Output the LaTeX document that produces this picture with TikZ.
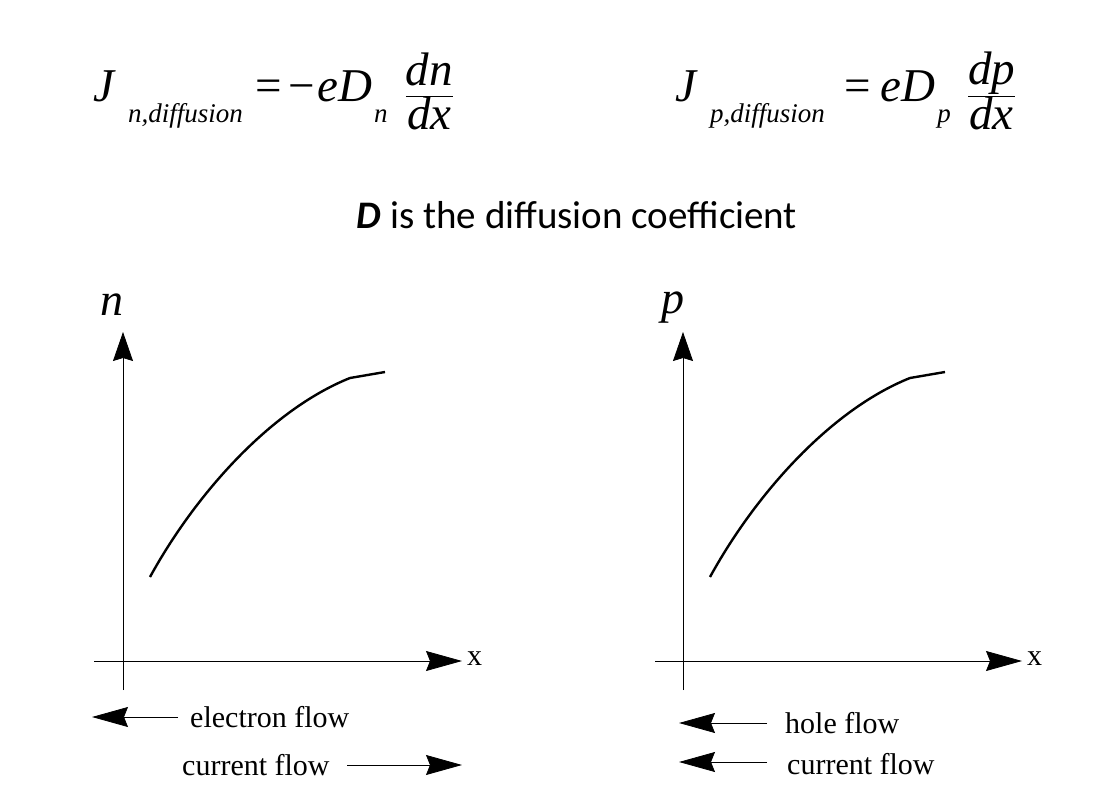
\documentclass[tikz,border=0pt]{standalone}
\usepackage{fontspec}
\setmainfont{Liberation Serif}
\newfontfamily\capfont{Carlito}
\usetikzlibrary{arrows.meta}
\begin{document}
\begin{tikzpicture}[x=1pt,y=-1pt]
\tikzstyle{ax}=[line width=0.8pt,-{Stealth[length=36pt,width=20pt,inset=4pt]}];
\tikzstyle{yax}=[line width=0.8pt,-{Stealth[length=29pt,width=20pt,inset=3pt]}];
\tikzstyle{flow}=[ax];
\tikzstyle{curve}=[line width=2.4pt];
\tikzstyle{t}=[inner sep=0pt,font=\fontsize{30}{32}\selectfont];
\tikzstyle{eq}=[inner sep=0pt,anchor=base west,font=\fontsize{47}{49}\selectfont\itshape];
\tikzstyle{lbl}=[inner sep=0pt,font=\fontsize{46}{48}\selectfont\itshape];
\useasboundingbox (0,0) rectangle (1098,810);
% equations
\node [eq] (e1) at (93,102) {J\raisebox{-21pt}{\fontsize{27}{27}\selectfont\hspace{14pt}n,diffusion}\hspace{10pt}=\hspace{1pt}−eD\raisebox{-21pt}{\fontsize{27}{27}\selectfont\hspace{2pt}n}\hspace{17pt}$\displaystyle\frac{\hbox{dn}}{\hbox{dx}}$};
\node [eq] (e2) at (675,102) {J\raisebox{-21pt}{\fontsize{27}{27}\selectfont\hspace{14pt}p,diffusion}\hspace{17pt}=\hspace{7pt}eD\raisebox{-21pt}{\fontsize{27}{27}\selectfont\hspace{2pt}p}\hspace{16pt}$\displaystyle\frac{\hbox{dp}}{\hbox{dx}}$};
\node [inner sep=0pt,font=\capfont\fontsize{39}{41}\selectfont] (c) at (577,215) {\textbf{\textit{D}} is the diffusion coefficient};
% left plot
\coordinate (o1) at (123,690);
\coordinate (y1) at (123,332);
\coordinate (x0) at (94,661);
\coordinate (x1) at (462,661);
\draw [yax] (o1) -- (y1);
\draw [ax] (x0) -- (x1);
\node [lbl] (v1) at (112,305) {n};
\node [t,anchor=west] (v2) at (467,659) {x};
\draw [curve] (150,577) .. controls (195,495) and (270,410) .. (350,378) -- (385,372);
\coordinate (a1) at (178,717);
\coordinate (a2) at (92,717);
\draw [flow] (a1) -- (a2);
\node [t,anchor=west] (v3) at (190,717) {electron flow};
\node [t,anchor=west] (v4) at (182,765) {current flow};
\coordinate (a3) at (347,765);
\coordinate (a4) at (462,765);
\draw [flow] (a3) -- (a4);
% right plot
\coordinate (o2) at (683,690);
\coordinate (y2) at (683,332);
\coordinate (x2) at (655,661);
\coordinate (x3) at (1022,661);
\draw [yax] (o2) -- (y2);
\draw [ax] (x2) -- (x3);
\node [lbl] (v5) at (673,308) {p};
\node [t,anchor=west] (v6) at (1027,659) {x};
\draw [curve] (710,577) .. controls (755,495) and (830,410) .. (910,378) -- (945,372);
\coordinate (b1) at (767,723);
\coordinate (b2) at (679,723);
\draw [flow] (b1) -- (b2);
\node [t,anchor=west] (v7) at (785,723) {hole flow};
\coordinate (b3) at (767,762);
\coordinate (b4) at (679,762);
\draw [flow] (b3) -- (b4);
\node [t,anchor=west] (v8) at (787,764) {current flow};
\end{tikzpicture}
\end{document}
